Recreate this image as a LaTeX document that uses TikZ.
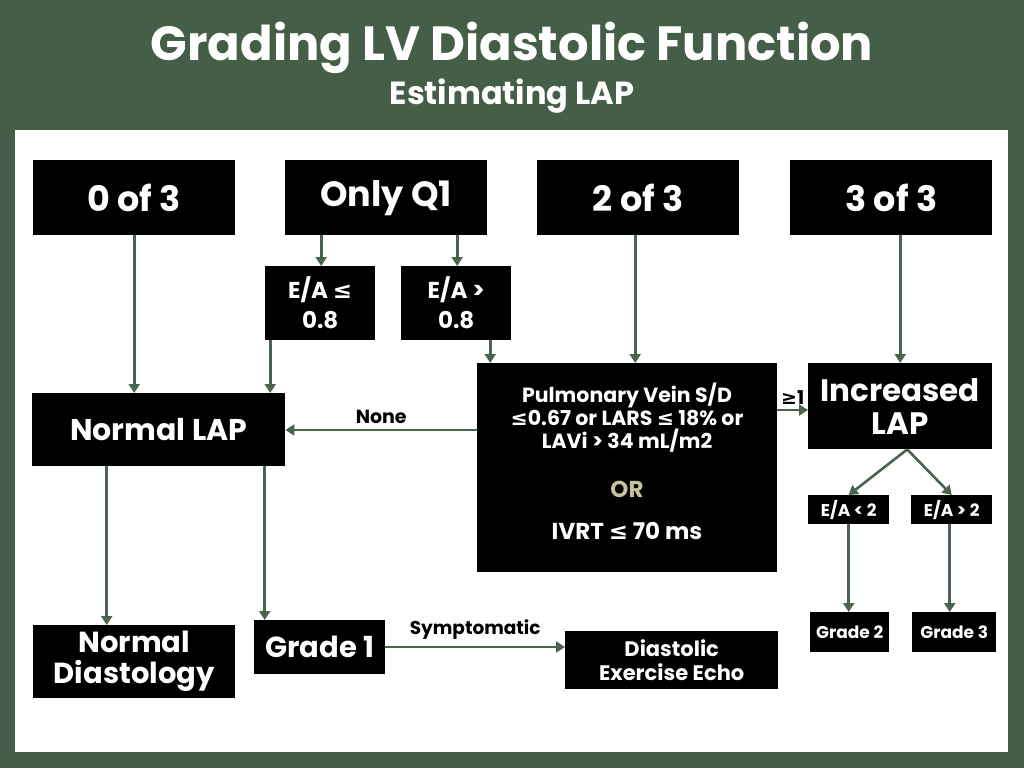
\documentclass[tikz,border=0pt]{standalone}
\usepackage{fontspec}
\setmainfont{Poppins}[BoldFont={Poppins Bold}]
\newfontfamily\sym{DejaVu Sans}
\newcommand{\mle}{{\sym\bfseries ≤}}
\newcommand{\mge}{{\sym\bfseries ≥}}
\usetikzlibrary{arrows.meta}
\definecolor{bg}{HTML}{445E47}
\definecolor{ar}{HTML}{4A6450}
\definecolor{tan}{HTML}{C9C39C}
\begin{document}
\begin{tikzpicture}[x=1pt,y=-1pt,
 box/.style={fill=black,text=white,font=\bfseries,align=center,inner sep=0pt,anchor=north west},
 arr/.style={draw=ar,line width=2.6pt,-{Triangle[length=9pt,width=11pt]}},
 lab/.style={font=\bfseries,text=black}]
\fill[bg] (0,0) rectangle (1024,768);
\useasboundingbox (0,0) rectangle (1024,768);
\fill[white] (15,130) rectangle (1008,752);
\node[text=white,font=\bfseries\fontsize{48}{50}\selectfont] (title) at (512,48) {Grading LV Diastolic Function};
\node[text=white,font=\bfseries\fontsize{32}{34}\selectfont] (sub) at (512,96) {Estimating LAP};
\tikzset{big/.style={box,minimum width=202pt,minimum height=75pt,font=\bfseries\fontsize{35}{38}\selectfont}}
\node[big] (z) at (33,160) {0 of 3};
\node[big] (q) at (285,160) {Only Q1\vphantom{0}};
\node[big] (t) at (537,160) {2 of 3};
\node[big] (h) at (790,160) {3 of 3};
\tikzset{ea/.style={box,minimum width=110pt,minimum height=74pt,font=\bfseries\fontsize{23}{30}\selectfont}}
\node[ea] (e1) at (265,266) {E/A \mle\\0.8};
\node[ea] (e2) at (401,266) {E/A >\\0.8};
\node[box,minimum width=253pt,minimum height=73pt,font=\bfseries\fontsize{30}{32}\selectfont] (n) at (32,393) {Normal LAP};
\node[box,minimum width=300pt,minimum height=209pt] (m) at (477,363) {};
\node[font=\bfseries\fontsize{20.5}{23}\selectfont,text=white,align=center] (mt) at (627,418) {Pulmonary Vein S/D\\\mle0.67 or LARS \mle\ 18\% or\\LAVi > 34 mL/m2};
\node[font=\bfseries\fontsize{23}{25}\selectfont,text=tan] (or) at (627,489) {OR};
\node[font=\bfseries\fontsize{23}{25}\selectfont,text=white] (iv) at (627,531) {IVRT \mle\ 70 ms};
\node[box,minimum width=184pt,minimum height=86pt,font=\bfseries\fontsize{31}{33}\selectfont] (i) at (808,363) {Increased\\LAP};
\tikzset{sm/.style={box,minimum width=81pt,minimum height=29pt,font=\bfseries\fontsize{17}{19}\selectfont}}
\node[sm] (a1) at (808,495) {E/A < 2};
\node[sm] (a2) at (911,495) {E/A > 2};
\node[box,minimum width=79pt,minimum height=40pt,font=\bfseries\fontsize{17}{19}\selectfont] (g2) at (810,612) {Grade 2};
\node[box,minimum width=84pt,minimum height=40pt,font=\bfseries\fontsize{17}{19}\selectfont] (g3) at (912,612) {Grade 3};
\node[box,minimum width=202pt,minimum height=73pt,font=\bfseries\fontsize{29}{31}\selectfont] (nd) at (33,625) {Normal\\Diastology};
\node[box,minimum width=131pt,minimum height=54pt,font=\bfseries\fontsize{29}{31}\selectfont] (g1) at (254,620) {Grade 1};
\node[box,minimum width=213pt,minimum height=58pt,font=\bfseries\fontsize{21}{24}\selectfont] (de) at (565,631) {Diastolic\\Exercise Echo};
% connectors
\draw[arr] (z.south) -- (z.south |- n.north);
\draw[arr] ([xshift=-65pt]q.south) -- ([xshift=-65pt]q.south |- e1.north);
\draw[arr] ([xshift=71pt]q.south) -- ([xshift=71pt]q.south |- e2.north);
\draw[arr] ([xshift=-50pt]e1.south) -- ([xshift=-50pt]e1.south |- n.north);
\draw[arr] ([xshift=34pt]e2.south) -- ([xshift=34pt]e2.south |- m.north);
\draw[arr] ([xshift=-3pt]t.south) -- ([xshift=-3pt]t.south |- m.north);
\draw[arr] ([xshift=9pt]h.south) -- ([xshift=9pt]h.south |- i.north);
\draw[arr] (m.west |- 0,430) -- (n.east |- 0,430) node[lab,midway,above=2pt,font=\bfseries\fontsize{19}{21}\selectfont] {None};
\draw[arr] (m.east |- 0,410) -- (i.west |- 0,410) node[lab,midway,above=1pt,font=\bfseries\fontsize{19}{21}\selectfont] {\mge1};
\draw[arr] ([xshift=7pt]i.south) -- (a1.north);
\draw[arr] ([xshift=7pt]i.south) -- (a2.north);
\draw[arr] (a1.south) -- (a1.south |- g2.north);
\draw[arr] ([xshift=-2pt]a2.south) -- ([xshift=-2pt]a2.south |- g3.north);
\draw[arr] ([xshift=-52pt]n.south) -- ([xshift=-52pt]n.south |- nd.north);
\draw[arr] ([xshift=106pt]n.south) -- ([xshift=106pt]n.south |- g1.north);
\draw[arr] (g1.east |- 0,647) -- (de.west |- 0,647) node[lab,midway,above=3pt,font=\bfseries\fontsize{18.5}{20}\selectfont] {Symptomatic};
\end{tikzpicture}
\end{document}
